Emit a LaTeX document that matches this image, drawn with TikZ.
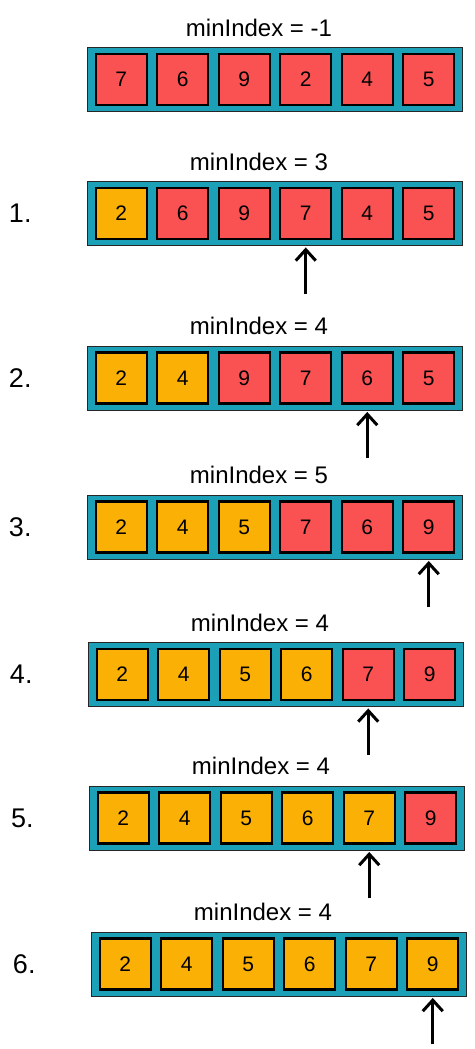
\documentclass[tikz,border=0pt]{standalone}
\usepackage{fontspec}
\setmainfont{Liberation Sans}
\usetikzlibrary{arrows.meta,positioning}
\definecolor{arrteal}{RGB}{28,160,184}
\definecolor{arrred}{RGB}{250,82,82}
\definecolor{arrgold}{RGB}{250,176,5}

\begin{document}
\begin{tikzpicture}[x=1pt,y=-1pt,
  bar/.style={draw=black!85,fill=arrteal,line width=0.9pt,minimum width=375pt,minimum height=64pt,inner sep=0pt},
  cell/.style={draw=black,line width=2.4pt,minimum size=51pt,inner sep=0pt,font=\fontsize{21}{21}\selectfont},
  caption/.style={font=\fontsize{24}{24}\selectfont},
  steplabel/.style={font=\fontsize{27}{27}\selectfont},
  pointer/.style={-{Straight Barb[length=11pt,width=20pt]},line width=3pt,shorten >=1.5pt}]
  \useasboundingbox (0,0) rectangle (474,1049);
  % row / centre x / centre y / minIndex / sorted / pointer cell / values
  \foreach \r/\xc/\yc/\mi/\ns/\k/\vals in {
      0/275/79.5/-1/0/0/{7,6,9,2,4,5},
      1/275/213.5/3/1/4/{2,6,9,7,4,5},
      2/275/378/4/2/5/{2,4,9,7,6,5},
      3/275/527/5/3/6/{2,4,5,7,6,9},
      4/276/674.5/4/4/5/{2,4,5,6,7,9},
      5/277/818/4/5/5/{2,4,5,6,7,9},
      6/279/964/4/6/6/{2,4,5,6,7,9}}{
    \node[bar] (bar\r) at (\xc,\yc) {};
    \node[caption,above=7pt of bar\r,xshift=-16pt] (cap\r) {minIndex = \mi};
    \ifnum\r>0
      \node[steplabel,left=52pt of bar\r] (num\r) {\r.};
    \fi
    \foreach \v [count=\i] in \vals {
      \ifnum\i>\ns\def\fillc{arrred}\else\def\fillc{arrgold}\fi
      \node[cell,fill=\fillc] (c\r-\i) at ({\xc+(\i-3.5)*61.5},\yc) {\v};
    }
    \ifnum\k>0
      \path (c\r-\k |- bar\r.south) ++(0,48) coordinate (tail\r);
      \draw[pointer] (tail\r) -- (c\r-\k |- bar\r.south);
    \fi
  }
\end{tikzpicture}
\end{document}
